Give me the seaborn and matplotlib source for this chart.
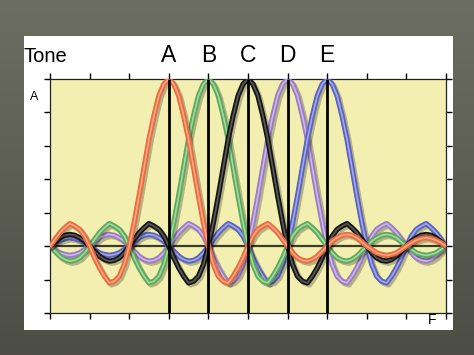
import matplotlib
matplotlib.use("Agg")
import matplotlib.pyplot as plt
import matplotlib.patheffects as pe
import matplotlib.transforms as mtransforms
from matplotlib.patches import Rectangle
import numpy as np
import pandas as pd
import seaborn as sns

# tones and where each one peaks on the F axis
tones = ["A", "B", "C", "D", "E"]
peaks = [3, 4, 5, 6, 7]
colors = {"A": "#ec6a3c", "B": "#5aa95c", "C": "#161616", "D": "#9b7cc4", "E": "#5a62c2"}
cores = {"A": "#f8a688", "B": "#a4d8a0", "C": "#5a5a5a", "D": "#cdb6e8", "E": "#a2a8ea"}

# one pulse, from the peak outwards, every 1/8 of a tone spacing
pulse_step = 0.125
pulse_half = [1.00, 0.97, 0.90, 0.78, 0.64, 0.47, 0.30, 0.14,
              0.00, -0.11, -0.18, -0.21, -0.22, -0.18, -0.13, -0.07,
              0.00, 0.06, 0.10, 0.12, 0.135, 0.11, 0.08, 0.04,
              0.00, -0.04, -0.07, -0.085, -0.09, -0.08, -0.06, -0.03,
              0.00, 0.03, 0.05, 0.065, 0.07, 0.065, 0.05, 0.025,
              0.00, -0.02, -0.04, -0.05, -0.055, -0.05, -0.04, -0.02,
              0.00, 0.02, 0.035, 0.045, 0.05, 0.045, 0.035, 0.02,
              0.00]

f_min, f_max = 0, 10
a_min, a_max = -0.4, 1.0

half = np.array(pulse_half)
shape = np.concatenate([half[:0:-1], half])
offs = (np.arange(len(shape)) - (len(half) - 1)) * pulse_step

rows = []
for t, p in zip(tones, peaks):
    for o, v in zip(offs, shape):
        f = p + o
        if f_min <= f <= f_max:
            rows.append({"tone": t, "F": f, "A": v})
df = pd.DataFrame(rows)

sns.set_style("white")
fig = plt.figure(figsize=(4.74, 3.55), dpi=100)

# slide background gradient
bg = fig.add_axes([0, 0, 1, 1], zorder=-10)
grad = np.linspace(0, 1, 256).reshape(-1, 1)
bg.imshow(grad, aspect="auto", extent=[0, 1, 0, 1],
          cmap=matplotlib.colors.LinearSegmentedColormap.from_list("g", ["#6d6e63", "#4c4d44"]))
bg.axis("off")
fig.patches.append(Rectangle((24 / 474, 1 - 330 / 355), 429 / 474, 294 / 355,
                             transform=fig.transFigure, facecolor="white",
                             edgecolor="none", zorder=-5))

ax = fig.add_axes([50 / 474, 1 - 313 / 355, 396 / 474, 234 / 355])
ax.set_facecolor("#f2efb0")

ax.axhline(0, color="#3c3a2c", lw=1.6, zorder=2)

draw_order = ["D", "E", "B", "C", "A"]
for t in draw_order:
    sub = df[df["tone"] == t]
    sns.lineplot(data=sub, x="F", y="A", ax=ax, color=colors[t], lw=3.8,
                 zorder=3, sort=True, estimator=None,
                 path_effects=[pe.SimpleLineShadow(offset=(1.5, -1.5), alpha=0.25),
                               pe.Normal()])
    sns.lineplot(data=sub, x="F", y="A", ax=ax, color=cores[t], lw=1.2,
                 zorder=3, sort=True, estimator=None)

ax.vlines(peaks, a_min, a_max, color="black", lw=2, zorder=4)

ax.set_xlim(f_min, f_max)
ax.set_ylim(a_min, a_max)
ax.set_xticks(range(f_min, f_max + 1))
ax.set_yticks(np.round(np.arange(a_min, a_max + 0.01, 0.2), 1))
ax.tick_params(direction="out", length=4, width=1, color="black",
               top=True, right=True, bottom=True, left=True,
               labelbottom=False, labelleft=False)
for s in ax.spines.values():
    s.set_color("#222222")
    s.set_linewidth(0.9)
ax.set_xlabel("")
ax.set_ylabel("")

big = ["Liberation Sans", "DejaVu Sans"]
fig.text(23 / 474, 1 - 56 / 355, "Tone", fontsize=14.5, family=big,
         ha="left", va="center", color="black")
trans = mtransforms.blended_transform_factory(ax.transData, fig.transFigure)
for t, p in zip(tones, peaks):
    ax.text(p, 1 - 56 / 355, t, transform=trans, fontsize=16.5, family=big,
            ha="center", va="center", color="black")
fig.text(34 / 474, 1 - 97 / 355, "A", fontsize=9, family="Liberation Sans",
         ha="center", va="center", color="black")
fig.text(432 / 474, 1 - 320 / 355, "F", fontsize=10, family="Liberation Sans",
         ha="center", va="center", color="black")

fig.savefig("out.png", dpi=100)
